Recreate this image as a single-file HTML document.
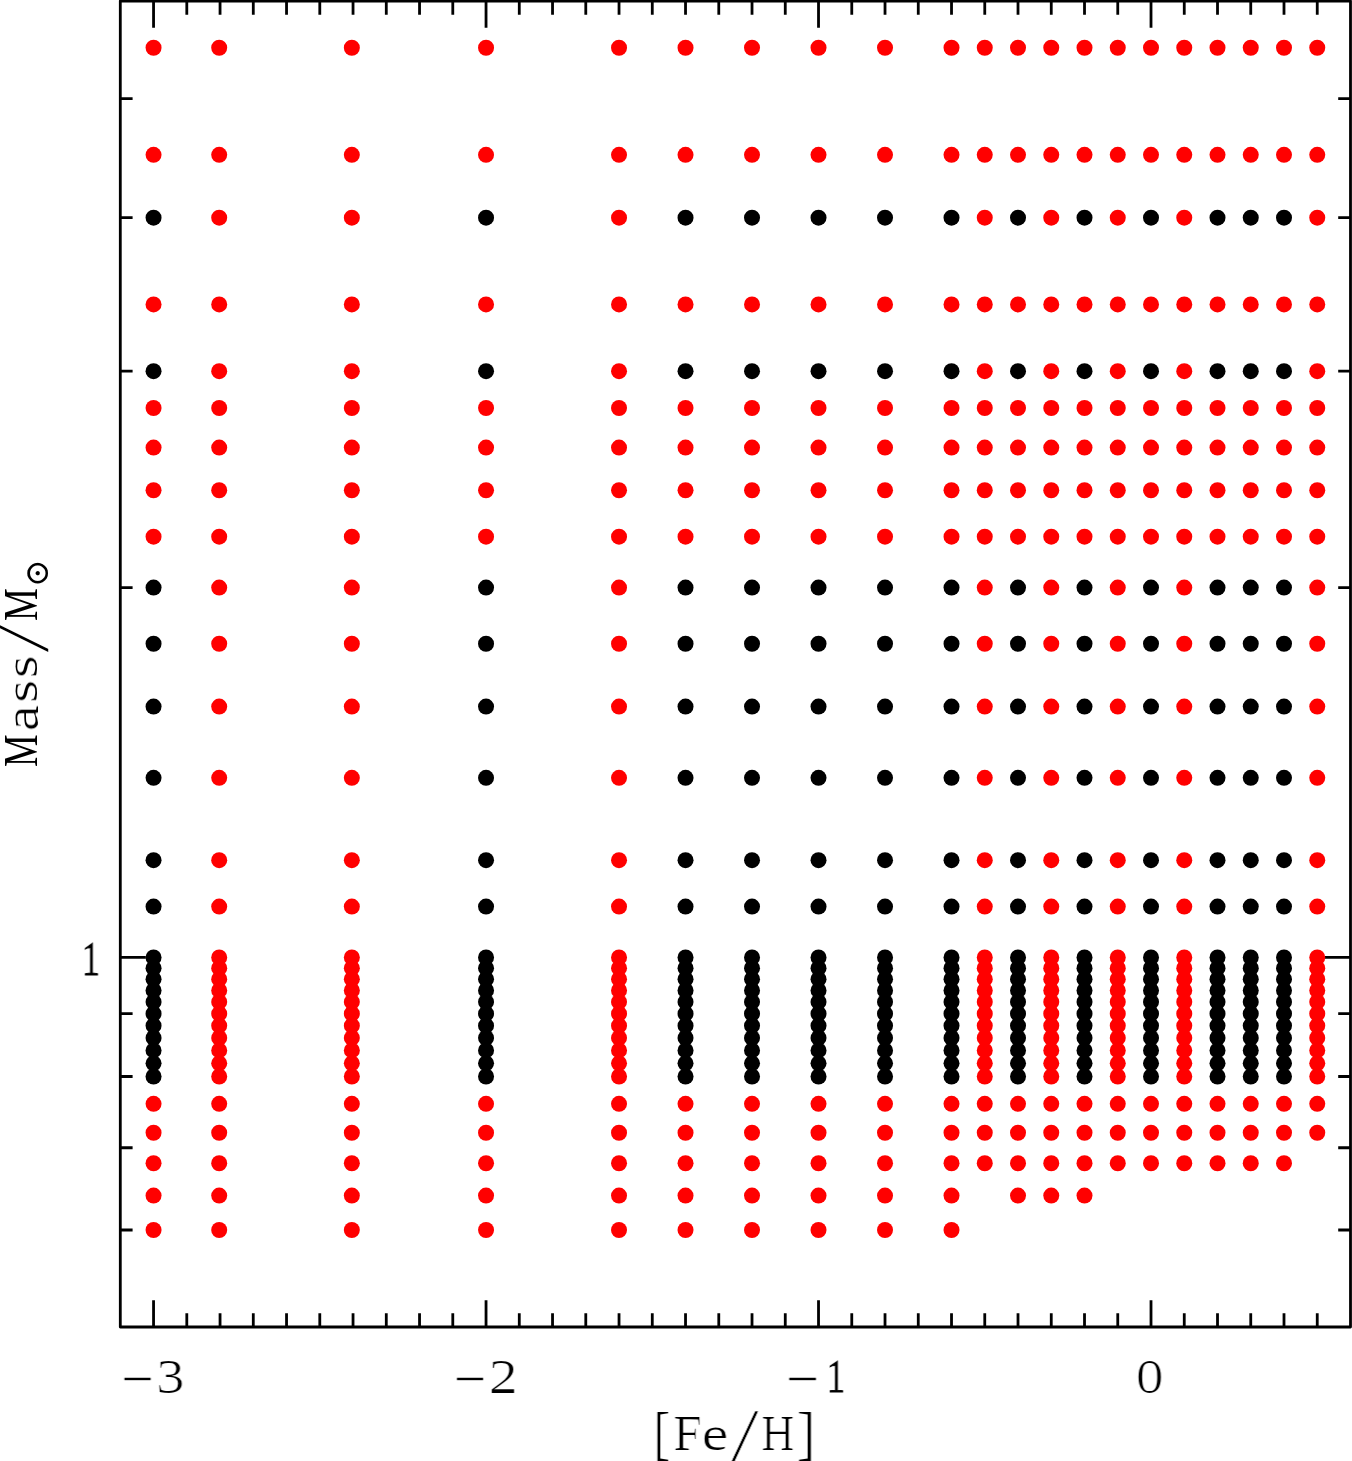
<!DOCTYPE html>
<html lang="en"><head><meta charset="utf-8"><title>Mass/M⊙ vs [Fe/H]</title>
<style>html,body{margin:0;padding:0;background:#fff}svg{display:block}text{font-family:"Liberation Serif","DejaVu Serif",serif;fill:#000}</style></head>
<body>
<svg width="1352" height="1461" viewBox="0 0 1352 1461">
<rect width="1352" height="1461" fill="#fff"/>
<defs><filter id="thin" x="-10%" y="-10%" width="120%" height="120%" color-interpolation-filters="sRGB"><feColorMatrix in="SourceGraphic" type="matrix" values="0 0 0 0 0  0 0 0 0 0  0 0 0 0 0  -1 0 0 1 0" result="k"/><feMorphology in="k" operator="erode" radius="1 0" result="e"/><feComposite in="k" in2="e" operator="arithmetic" k1="0" k2="0.3" k3="0.7" k4="0"/></filter><filter id="thiny" x="-10%" y="-10%" width="120%" height="120%" color-interpolation-filters="sRGB"><feColorMatrix in="SourceGraphic" type="matrix" values="0 0 0 0 0  0 0 0 0 0  0 0 0 0 0  -1 0 0 1 0" result="k"/><feMorphology in="k" operator="erode" radius="1 0" result="e"/><feComposite x="-731.5" y="-20" width="76.5" height="90" in="k" in2="e" operator="arithmetic" k1="0" k2="0.3" k3="0.7" k4="0" result="ins"/><feFlood x="-731.5" y="-20" width="76.5" height="90" flood-color="#000" result="m"/><feComposite in="k" in2="m" operator="out" result="outs"/><feMerge><feMergeNode in="outs"/><feMergeNode in="ins"/></feMerge></filter></defs>
<path d="M153.55 1327.00v-26.80M153.55 1.00v26.80M186.80 1327.00v-13.80M186.80 1.00v13.80M220.05 1327.00v-13.80M220.05 1.00v13.80M253.29 1327.00v-13.80M253.29 1.00v13.80M286.54 1327.00v-13.80M286.54 1.00v13.80M319.79 1327.00v-13.80M319.79 1.00v13.80M353.04 1327.00v-13.80M353.04 1.00v13.80M386.29 1327.00v-13.80M386.29 1.00v13.80M419.54 1327.00v-13.80M419.54 1.00v13.80M452.79 1327.00v-13.80M452.79 1.00v13.80M486.04 1327.00v-26.80M486.04 1.00v26.80M519.28 1327.00v-13.80M519.28 1.00v13.80M552.53 1327.00v-13.80M552.53 1.00v13.80M585.78 1327.00v-13.80M585.78 1.00v13.80M619.03 1327.00v-13.80M619.03 1.00v13.80M652.28 1327.00v-13.80M652.28 1.00v13.80M685.53 1327.00v-13.80M685.53 1.00v13.80M718.78 1327.00v-13.80M718.78 1.00v13.80M752.02 1327.00v-13.80M752.02 1.00v13.80M785.27 1327.00v-13.80M785.27 1.00v13.80M818.52 1327.00v-26.80M818.52 1.00v26.80M851.77 1327.00v-13.80M851.77 1.00v13.80M885.02 1327.00v-13.80M885.02 1.00v13.80M918.27 1327.00v-13.80M918.27 1.00v13.80M951.52 1327.00v-13.80M951.52 1.00v13.80M984.76 1327.00v-13.80M984.76 1.00v13.80M1018.01 1327.00v-13.80M1018.01 1.00v13.80M1051.26 1327.00v-13.80M1051.26 1.00v13.80M1084.51 1327.00v-13.80M1084.51 1.00v13.80M1117.76 1327.00v-13.80M1117.76 1.00v13.80M1151.01 1327.00v-26.80M1151.01 1.00v26.80M1184.26 1327.00v-13.80M1184.26 1.00v13.80M1217.51 1327.00v-13.80M1217.51 1.00v13.80M1250.75 1327.00v-13.80M1250.75 1.00v13.80M1284.00 1327.00v-13.80M1284.00 1.00v13.80M1317.25 1327.00v-13.80M1317.25 1.00v13.80M120.30 1230.01h12.30M1350.50 1230.01h-12.30M120.30 1147.75h12.30M1350.50 1147.75h-12.30M120.30 1076.50h12.30M1350.50 1076.50h-12.30M120.30 1013.64h12.30M1350.50 1013.64h-12.30M120.30 957.42h25.50M1350.50 957.42h-25.50M120.30 587.54h12.30M1350.50 587.54h-12.30M120.30 371.18h12.30M1350.50 371.18h-12.30M120.30 217.66h12.30M1350.50 217.66h-12.30M120.30 98.59h12.30M1350.50 98.59h-12.30" stroke="#000" stroke-width="2.8" fill="none"/>
<rect x="120.30" y="1.00" width="1230.20" height="1326.00" fill="none" stroke="#000" stroke-width="2.8" stroke-linejoin="round"/>
<g fill="#f00"><circle cx="153.55" cy="1230.01" r="8.0"/><circle cx="219.20" cy="1230.01" r="8.0"/><circle cx="351.84" cy="1230.01" r="8.0"/><circle cx="486.04" cy="1230.01" r="8.0"/><circle cx="619.03" cy="1230.01" r="8.0"/><circle cx="685.53" cy="1230.01" r="8.0"/><circle cx="752.02" cy="1230.01" r="8.0"/><circle cx="818.52" cy="1230.01" r="8.0"/><circle cx="885.02" cy="1230.01" r="8.0"/><circle cx="951.52" cy="1230.01" r="8.0"/><circle cx="153.55" cy="1195.57" r="8.0"/><circle cx="219.20" cy="1195.57" r="8.0"/><circle cx="351.84" cy="1195.57" r="8.0"/><circle cx="486.04" cy="1195.57" r="8.0"/><circle cx="619.03" cy="1195.57" r="8.0"/><circle cx="685.53" cy="1195.57" r="8.0"/><circle cx="752.02" cy="1195.57" r="8.0"/><circle cx="818.52" cy="1195.57" r="8.0"/><circle cx="885.02" cy="1195.57" r="8.0"/><circle cx="951.52" cy="1195.57" r="8.0"/><circle cx="1018.01" cy="1195.57" r="8.0"/><circle cx="1051.26" cy="1195.57" r="8.0"/><circle cx="1084.51" cy="1195.57" r="8.0"/><circle cx="153.55" cy="1163.22" r="8.0"/><circle cx="219.20" cy="1163.22" r="8.0"/><circle cx="351.84" cy="1163.22" r="8.0"/><circle cx="486.04" cy="1163.22" r="8.0"/><circle cx="619.03" cy="1163.22" r="8.0"/><circle cx="685.53" cy="1163.22" r="8.0"/><circle cx="752.02" cy="1163.22" r="8.0"/><circle cx="818.52" cy="1163.22" r="8.0"/><circle cx="885.02" cy="1163.22" r="8.0"/><circle cx="951.52" cy="1163.22" r="8.0"/><circle cx="984.76" cy="1163.22" r="8.0"/><circle cx="1018.01" cy="1163.22" r="8.0"/><circle cx="1051.26" cy="1163.22" r="8.0"/><circle cx="1084.51" cy="1163.22" r="8.0"/><circle cx="1117.76" cy="1163.22" r="8.0"/><circle cx="1151.01" cy="1163.22" r="8.0"/><circle cx="1184.26" cy="1163.22" r="8.0"/><circle cx="1217.51" cy="1163.22" r="8.0"/><circle cx="1250.75" cy="1163.22" r="8.0"/><circle cx="1284.00" cy="1163.22" r="8.0"/><circle cx="153.55" cy="1132.72" r="8.0"/><circle cx="219.20" cy="1132.72" r="8.0"/><circle cx="351.84" cy="1132.72" r="8.0"/><circle cx="486.04" cy="1132.72" r="8.0"/><circle cx="619.03" cy="1132.72" r="8.0"/><circle cx="685.53" cy="1132.72" r="8.0"/><circle cx="752.02" cy="1132.72" r="8.0"/><circle cx="818.52" cy="1132.72" r="8.0"/><circle cx="885.02" cy="1132.72" r="8.0"/><circle cx="951.52" cy="1132.72" r="8.0"/><circle cx="984.76" cy="1132.72" r="8.0"/><circle cx="1018.01" cy="1132.72" r="8.0"/><circle cx="1051.26" cy="1132.72" r="8.0"/><circle cx="1084.51" cy="1132.72" r="8.0"/><circle cx="1117.76" cy="1132.72" r="8.0"/><circle cx="1151.01" cy="1132.72" r="8.0"/><circle cx="1184.26" cy="1132.72" r="8.0"/><circle cx="1217.51" cy="1132.72" r="8.0"/><circle cx="1250.75" cy="1132.72" r="8.0"/><circle cx="1284.00" cy="1132.72" r="8.0"/><circle cx="1317.25" cy="1132.72" r="8.0"/><circle cx="153.55" cy="1103.87" r="8.0"/><circle cx="219.20" cy="1103.87" r="8.0"/><circle cx="351.84" cy="1103.87" r="8.0"/><circle cx="486.04" cy="1103.87" r="8.0"/><circle cx="619.03" cy="1103.87" r="8.0"/><circle cx="685.53" cy="1103.87" r="8.0"/><circle cx="752.02" cy="1103.87" r="8.0"/><circle cx="818.52" cy="1103.87" r="8.0"/><circle cx="885.02" cy="1103.87" r="8.0"/><circle cx="951.52" cy="1103.87" r="8.0"/><circle cx="984.76" cy="1103.87" r="8.0"/><circle cx="1018.01" cy="1103.87" r="8.0"/><circle cx="1051.26" cy="1103.87" r="8.0"/><circle cx="1084.51" cy="1103.87" r="8.0"/><circle cx="1117.76" cy="1103.87" r="8.0"/><circle cx="1151.01" cy="1103.87" r="8.0"/><circle cx="1184.26" cy="1103.87" r="8.0"/><circle cx="1217.51" cy="1103.87" r="8.0"/><circle cx="1250.75" cy="1103.87" r="8.0"/><circle cx="1284.00" cy="1103.87" r="8.0"/><circle cx="1317.25" cy="1103.87" r="8.0"/><circle cx="219.20" cy="1076.50" r="8.0"/><circle cx="351.84" cy="1076.50" r="8.0"/><circle cx="619.03" cy="1076.50" r="8.0"/><circle cx="984.76" cy="1076.50" r="8.0"/><circle cx="1051.26" cy="1076.50" r="8.0"/><circle cx="1117.76" cy="1076.50" r="8.0"/><circle cx="1184.26" cy="1076.50" r="8.0"/><circle cx="1317.25" cy="1076.50" r="8.0"/><circle cx="219.20" cy="1063.32" r="8.0"/><circle cx="351.84" cy="1063.32" r="8.0"/><circle cx="619.03" cy="1063.32" r="8.0"/><circle cx="984.76" cy="1063.32" r="8.0"/><circle cx="1051.26" cy="1063.32" r="8.0"/><circle cx="1117.76" cy="1063.32" r="8.0"/><circle cx="1184.26" cy="1063.32" r="8.0"/><circle cx="1317.25" cy="1063.32" r="8.0"/><circle cx="219.20" cy="1050.46" r="8.0"/><circle cx="351.84" cy="1050.46" r="8.0"/><circle cx="619.03" cy="1050.46" r="8.0"/><circle cx="984.76" cy="1050.46" r="8.0"/><circle cx="1051.26" cy="1050.46" r="8.0"/><circle cx="1117.76" cy="1050.46" r="8.0"/><circle cx="1184.26" cy="1050.46" r="8.0"/><circle cx="1317.25" cy="1050.46" r="8.0"/><circle cx="219.20" cy="1037.90" r="8.0"/><circle cx="351.84" cy="1037.90" r="8.0"/><circle cx="619.03" cy="1037.90" r="8.0"/><circle cx="984.76" cy="1037.90" r="8.0"/><circle cx="1051.26" cy="1037.90" r="8.0"/><circle cx="1117.76" cy="1037.90" r="8.0"/><circle cx="1184.26" cy="1037.90" r="8.0"/><circle cx="1317.25" cy="1037.90" r="8.0"/><circle cx="219.20" cy="1025.64" r="8.0"/><circle cx="351.84" cy="1025.64" r="8.0"/><circle cx="619.03" cy="1025.64" r="8.0"/><circle cx="984.76" cy="1025.64" r="8.0"/><circle cx="1051.26" cy="1025.64" r="8.0"/><circle cx="1117.76" cy="1025.64" r="8.0"/><circle cx="1184.26" cy="1025.64" r="8.0"/><circle cx="1317.25" cy="1025.64" r="8.0"/><circle cx="219.20" cy="1013.64" r="8.0"/><circle cx="351.84" cy="1013.64" r="8.0"/><circle cx="619.03" cy="1013.64" r="8.0"/><circle cx="984.76" cy="1013.64" r="8.0"/><circle cx="1051.26" cy="1013.64" r="8.0"/><circle cx="1117.76" cy="1013.64" r="8.0"/><circle cx="1184.26" cy="1013.64" r="8.0"/><circle cx="1317.25" cy="1013.64" r="8.0"/><circle cx="219.20" cy="1001.92" r="8.0"/><circle cx="351.84" cy="1001.92" r="8.0"/><circle cx="619.03" cy="1001.92" r="8.0"/><circle cx="984.76" cy="1001.92" r="8.0"/><circle cx="1051.26" cy="1001.92" r="8.0"/><circle cx="1117.76" cy="1001.92" r="8.0"/><circle cx="1184.26" cy="1001.92" r="8.0"/><circle cx="1317.25" cy="1001.92" r="8.0"/><circle cx="219.20" cy="990.44" r="8.0"/><circle cx="351.84" cy="990.44" r="8.0"/><circle cx="619.03" cy="990.44" r="8.0"/><circle cx="984.76" cy="990.44" r="8.0"/><circle cx="1051.26" cy="990.44" r="8.0"/><circle cx="1117.76" cy="990.44" r="8.0"/><circle cx="1184.26" cy="990.44" r="8.0"/><circle cx="1317.25" cy="990.44" r="8.0"/><circle cx="219.20" cy="979.21" r="8.0"/><circle cx="351.84" cy="979.21" r="8.0"/><circle cx="619.03" cy="979.21" r="8.0"/><circle cx="984.76" cy="979.21" r="8.0"/><circle cx="1051.26" cy="979.21" r="8.0"/><circle cx="1117.76" cy="979.21" r="8.0"/><circle cx="1184.26" cy="979.21" r="8.0"/><circle cx="1317.25" cy="979.21" r="8.0"/><circle cx="219.20" cy="968.20" r="8.0"/><circle cx="351.84" cy="968.20" r="8.0"/><circle cx="619.03" cy="968.20" r="8.0"/><circle cx="984.76" cy="968.20" r="8.0"/><circle cx="1051.26" cy="968.20" r="8.0"/><circle cx="1117.76" cy="968.20" r="8.0"/><circle cx="1184.26" cy="968.20" r="8.0"/><circle cx="1317.25" cy="968.20" r="8.0"/><circle cx="219.20" cy="957.42" r="8.0"/><circle cx="351.84" cy="957.42" r="8.0"/><circle cx="619.03" cy="957.42" r="8.0"/><circle cx="984.76" cy="957.42" r="8.0"/><circle cx="1051.26" cy="957.42" r="8.0"/><circle cx="1117.76" cy="957.42" r="8.0"/><circle cx="1184.26" cy="957.42" r="8.0"/><circle cx="1317.25" cy="957.42" r="8.0"/><circle cx="219.20" cy="906.56" r="8.0"/><circle cx="351.84" cy="906.56" r="8.0"/><circle cx="619.03" cy="906.56" r="8.0"/><circle cx="984.76" cy="906.56" r="8.0"/><circle cx="1051.26" cy="906.56" r="8.0"/><circle cx="1117.76" cy="906.56" r="8.0"/><circle cx="1184.26" cy="906.56" r="8.0"/><circle cx="1317.25" cy="906.56" r="8.0"/><circle cx="219.20" cy="860.13" r="8.0"/><circle cx="351.84" cy="860.13" r="8.0"/><circle cx="619.03" cy="860.13" r="8.0"/><circle cx="984.76" cy="860.13" r="8.0"/><circle cx="1051.26" cy="860.13" r="8.0"/><circle cx="1117.76" cy="860.13" r="8.0"/><circle cx="1184.26" cy="860.13" r="8.0"/><circle cx="1317.25" cy="860.13" r="8.0"/><circle cx="219.20" cy="777.87" r="8.0"/><circle cx="351.84" cy="777.87" r="8.0"/><circle cx="619.03" cy="777.87" r="8.0"/><circle cx="984.76" cy="777.87" r="8.0"/><circle cx="1051.26" cy="777.87" r="8.0"/><circle cx="1117.76" cy="777.87" r="8.0"/><circle cx="1184.26" cy="777.87" r="8.0"/><circle cx="1317.25" cy="777.87" r="8.0"/><circle cx="219.20" cy="706.62" r="8.0"/><circle cx="351.84" cy="706.62" r="8.0"/><circle cx="619.03" cy="706.62" r="8.0"/><circle cx="984.76" cy="706.62" r="8.0"/><circle cx="1051.26" cy="706.62" r="8.0"/><circle cx="1117.76" cy="706.62" r="8.0"/><circle cx="1184.26" cy="706.62" r="8.0"/><circle cx="1317.25" cy="706.62" r="8.0"/><circle cx="219.20" cy="643.77" r="8.0"/><circle cx="351.84" cy="643.77" r="8.0"/><circle cx="619.03" cy="643.77" r="8.0"/><circle cx="984.76" cy="643.77" r="8.0"/><circle cx="1051.26" cy="643.77" r="8.0"/><circle cx="1117.76" cy="643.77" r="8.0"/><circle cx="1184.26" cy="643.77" r="8.0"/><circle cx="1317.25" cy="643.77" r="8.0"/><circle cx="219.20" cy="587.54" r="8.0"/><circle cx="351.84" cy="587.54" r="8.0"/><circle cx="619.03" cy="587.54" r="8.0"/><circle cx="984.76" cy="587.54" r="8.0"/><circle cx="1051.26" cy="587.54" r="8.0"/><circle cx="1117.76" cy="587.54" r="8.0"/><circle cx="1184.26" cy="587.54" r="8.0"/><circle cx="1317.25" cy="587.54" r="8.0"/><circle cx="153.55" cy="536.68" r="8.0"/><circle cx="219.20" cy="536.68" r="8.0"/><circle cx="351.84" cy="536.68" r="8.0"/><circle cx="486.04" cy="536.68" r="8.0"/><circle cx="619.03" cy="536.68" r="8.0"/><circle cx="685.53" cy="536.68" r="8.0"/><circle cx="752.02" cy="536.68" r="8.0"/><circle cx="818.52" cy="536.68" r="8.0"/><circle cx="885.02" cy="536.68" r="8.0"/><circle cx="951.52" cy="536.68" r="8.0"/><circle cx="984.76" cy="536.68" r="8.0"/><circle cx="1018.01" cy="536.68" r="8.0"/><circle cx="1051.26" cy="536.68" r="8.0"/><circle cx="1084.51" cy="536.68" r="8.0"/><circle cx="1117.76" cy="536.68" r="8.0"/><circle cx="1151.01" cy="536.68" r="8.0"/><circle cx="1184.26" cy="536.68" r="8.0"/><circle cx="1217.51" cy="536.68" r="8.0"/><circle cx="1250.75" cy="536.68" r="8.0"/><circle cx="1284.00" cy="536.68" r="8.0"/><circle cx="1317.25" cy="536.68" r="8.0"/><circle cx="153.55" cy="490.25" r="8.0"/><circle cx="219.20" cy="490.25" r="8.0"/><circle cx="351.84" cy="490.25" r="8.0"/><circle cx="486.04" cy="490.25" r="8.0"/><circle cx="619.03" cy="490.25" r="8.0"/><circle cx="685.53" cy="490.25" r="8.0"/><circle cx="752.02" cy="490.25" r="8.0"/><circle cx="818.52" cy="490.25" r="8.0"/><circle cx="885.02" cy="490.25" r="8.0"/><circle cx="951.52" cy="490.25" r="8.0"/><circle cx="984.76" cy="490.25" r="8.0"/><circle cx="1018.01" cy="490.25" r="8.0"/><circle cx="1051.26" cy="490.25" r="8.0"/><circle cx="1084.51" cy="490.25" r="8.0"/><circle cx="1117.76" cy="490.25" r="8.0"/><circle cx="1151.01" cy="490.25" r="8.0"/><circle cx="1184.26" cy="490.25" r="8.0"/><circle cx="1217.51" cy="490.25" r="8.0"/><circle cx="1250.75" cy="490.25" r="8.0"/><circle cx="1284.00" cy="490.25" r="8.0"/><circle cx="1317.25" cy="490.25" r="8.0"/><circle cx="153.55" cy="447.54" r="8.0"/><circle cx="219.20" cy="447.54" r="8.0"/><circle cx="351.84" cy="447.54" r="8.0"/><circle cx="486.04" cy="447.54" r="8.0"/><circle cx="619.03" cy="447.54" r="8.0"/><circle cx="685.53" cy="447.54" r="8.0"/><circle cx="752.02" cy="447.54" r="8.0"/><circle cx="818.52" cy="447.54" r="8.0"/><circle cx="885.02" cy="447.54" r="8.0"/><circle cx="951.52" cy="447.54" r="8.0"/><circle cx="984.76" cy="447.54" r="8.0"/><circle cx="1018.01" cy="447.54" r="8.0"/><circle cx="1051.26" cy="447.54" r="8.0"/><circle cx="1084.51" cy="447.54" r="8.0"/><circle cx="1117.76" cy="447.54" r="8.0"/><circle cx="1151.01" cy="447.54" r="8.0"/><circle cx="1184.26" cy="447.54" r="8.0"/><circle cx="1217.51" cy="447.54" r="8.0"/><circle cx="1250.75" cy="447.54" r="8.0"/><circle cx="1284.00" cy="447.54" r="8.0"/><circle cx="1317.25" cy="447.54" r="8.0"/><circle cx="153.55" cy="407.99" r="8.0"/><circle cx="219.20" cy="407.99" r="8.0"/><circle cx="351.84" cy="407.99" r="8.0"/><circle cx="486.04" cy="407.99" r="8.0"/><circle cx="619.03" cy="407.99" r="8.0"/><circle cx="685.53" cy="407.99" r="8.0"/><circle cx="752.02" cy="407.99" r="8.0"/><circle cx="818.52" cy="407.99" r="8.0"/><circle cx="885.02" cy="407.99" r="8.0"/><circle cx="951.52" cy="407.99" r="8.0"/><circle cx="984.76" cy="407.99" r="8.0"/><circle cx="1018.01" cy="407.99" r="8.0"/><circle cx="1051.26" cy="407.99" r="8.0"/><circle cx="1084.51" cy="407.99" r="8.0"/><circle cx="1117.76" cy="407.99" r="8.0"/><circle cx="1151.01" cy="407.99" r="8.0"/><circle cx="1184.26" cy="407.99" r="8.0"/><circle cx="1217.51" cy="407.99" r="8.0"/><circle cx="1250.75" cy="407.99" r="8.0"/><circle cx="1284.00" cy="407.99" r="8.0"/><circle cx="1317.25" cy="407.99" r="8.0"/><circle cx="219.20" cy="371.18" r="8.0"/><circle cx="351.84" cy="371.18" r="8.0"/><circle cx="619.03" cy="371.18" r="8.0"/><circle cx="984.76" cy="371.18" r="8.0"/><circle cx="1051.26" cy="371.18" r="8.0"/><circle cx="1117.76" cy="371.18" r="8.0"/><circle cx="1184.26" cy="371.18" r="8.0"/><circle cx="1317.25" cy="371.18" r="8.0"/><circle cx="153.55" cy="304.39" r="8.0"/><circle cx="219.20" cy="304.39" r="8.0"/><circle cx="351.84" cy="304.39" r="8.0"/><circle cx="486.04" cy="304.39" r="8.0"/><circle cx="619.03" cy="304.39" r="8.0"/><circle cx="685.53" cy="304.39" r="8.0"/><circle cx="752.02" cy="304.39" r="8.0"/><circle cx="818.52" cy="304.39" r="8.0"/><circle cx="885.02" cy="304.39" r="8.0"/><circle cx="951.52" cy="304.39" r="8.0"/><circle cx="984.76" cy="304.39" r="8.0"/><circle cx="1018.01" cy="304.39" r="8.0"/><circle cx="1051.26" cy="304.39" r="8.0"/><circle cx="1084.51" cy="304.39" r="8.0"/><circle cx="1117.76" cy="304.39" r="8.0"/><circle cx="1151.01" cy="304.39" r="8.0"/><circle cx="1184.26" cy="304.39" r="8.0"/><circle cx="1217.51" cy="304.39" r="8.0"/><circle cx="1250.75" cy="304.39" r="8.0"/><circle cx="1284.00" cy="304.39" r="8.0"/><circle cx="1317.25" cy="304.39" r="8.0"/><circle cx="219.20" cy="217.66" r="8.0"/><circle cx="351.84" cy="217.66" r="8.0"/><circle cx="619.03" cy="217.66" r="8.0"/><circle cx="984.76" cy="217.66" r="8.0"/><circle cx="1051.26" cy="217.66" r="8.0"/><circle cx="1117.76" cy="217.66" r="8.0"/><circle cx="1184.26" cy="217.66" r="8.0"/><circle cx="1317.25" cy="217.66" r="8.0"/><circle cx="153.55" cy="154.81" r="8.0"/><circle cx="219.20" cy="154.81" r="8.0"/><circle cx="351.84" cy="154.81" r="8.0"/><circle cx="486.04" cy="154.81" r="8.0"/><circle cx="619.03" cy="154.81" r="8.0"/><circle cx="685.53" cy="154.81" r="8.0"/><circle cx="752.02" cy="154.81" r="8.0"/><circle cx="818.52" cy="154.81" r="8.0"/><circle cx="885.02" cy="154.81" r="8.0"/><circle cx="951.52" cy="154.81" r="8.0"/><circle cx="984.76" cy="154.81" r="8.0"/><circle cx="1018.01" cy="154.81" r="8.0"/><circle cx="1051.26" cy="154.81" r="8.0"/><circle cx="1084.51" cy="154.81" r="8.0"/><circle cx="1117.76" cy="154.81" r="8.0"/><circle cx="1151.01" cy="154.81" r="8.0"/><circle cx="1184.26" cy="154.81" r="8.0"/><circle cx="1217.51" cy="154.81" r="8.0"/><circle cx="1250.75" cy="154.81" r="8.0"/><circle cx="1284.00" cy="154.81" r="8.0"/><circle cx="1317.25" cy="154.81" r="8.0"/><circle cx="153.55" cy="47.73" r="8.0"/><circle cx="219.20" cy="47.73" r="8.0"/><circle cx="351.84" cy="47.73" r="8.0"/><circle cx="486.04" cy="47.73" r="8.0"/><circle cx="619.03" cy="47.73" r="8.0"/><circle cx="685.53" cy="47.73" r="8.0"/><circle cx="752.02" cy="47.73" r="8.0"/><circle cx="818.52" cy="47.73" r="8.0"/><circle cx="885.02" cy="47.73" r="8.0"/><circle cx="951.52" cy="47.73" r="8.0"/><circle cx="984.76" cy="47.73" r="8.0"/><circle cx="1018.01" cy="47.73" r="8.0"/><circle cx="1051.26" cy="47.73" r="8.0"/><circle cx="1084.51" cy="47.73" r="8.0"/><circle cx="1117.76" cy="47.73" r="8.0"/><circle cx="1151.01" cy="47.73" r="8.0"/><circle cx="1184.26" cy="47.73" r="8.0"/><circle cx="1217.51" cy="47.73" r="8.0"/><circle cx="1250.75" cy="47.73" r="8.0"/><circle cx="1284.00" cy="47.73" r="8.0"/><circle cx="1317.25" cy="47.73" r="8.0"/></g>
<g fill="#000"><circle cx="153.55" cy="1076.50" r="8.0"/><circle cx="486.04" cy="1076.50" r="8.0"/><circle cx="685.53" cy="1076.50" r="8.0"/><circle cx="752.02" cy="1076.50" r="8.0"/><circle cx="818.52" cy="1076.50" r="8.0"/><circle cx="885.02" cy="1076.50" r="8.0"/><circle cx="951.52" cy="1076.50" r="8.0"/><circle cx="1018.01" cy="1076.50" r="8.0"/><circle cx="1084.51" cy="1076.50" r="8.0"/><circle cx="1151.01" cy="1076.50" r="8.0"/><circle cx="1217.51" cy="1076.50" r="8.0"/><circle cx="1250.75" cy="1076.50" r="8.0"/><circle cx="1284.00" cy="1076.50" r="8.0"/><circle cx="153.55" cy="1063.32" r="8.0"/><circle cx="486.04" cy="1063.32" r="8.0"/><circle cx="685.53" cy="1063.32" r="8.0"/><circle cx="752.02" cy="1063.32" r="8.0"/><circle cx="818.52" cy="1063.32" r="8.0"/><circle cx="885.02" cy="1063.32" r="8.0"/><circle cx="951.52" cy="1063.32" r="8.0"/><circle cx="1018.01" cy="1063.32" r="8.0"/><circle cx="1084.51" cy="1063.32" r="8.0"/><circle cx="1151.01" cy="1063.32" r="8.0"/><circle cx="1217.51" cy="1063.32" r="8.0"/><circle cx="1250.75" cy="1063.32" r="8.0"/><circle cx="1284.00" cy="1063.32" r="8.0"/><circle cx="153.55" cy="1050.46" r="8.0"/><circle cx="486.04" cy="1050.46" r="8.0"/><circle cx="685.53" cy="1050.46" r="8.0"/><circle cx="752.02" cy="1050.46" r="8.0"/><circle cx="818.52" cy="1050.46" r="8.0"/><circle cx="885.02" cy="1050.46" r="8.0"/><circle cx="951.52" cy="1050.46" r="8.0"/><circle cx="1018.01" cy="1050.46" r="8.0"/><circle cx="1084.51" cy="1050.46" r="8.0"/><circle cx="1151.01" cy="1050.46" r="8.0"/><circle cx="1217.51" cy="1050.46" r="8.0"/><circle cx="1250.75" cy="1050.46" r="8.0"/><circle cx="1284.00" cy="1050.46" r="8.0"/><circle cx="153.55" cy="1037.90" r="8.0"/><circle cx="486.04" cy="1037.90" r="8.0"/><circle cx="685.53" cy="1037.90" r="8.0"/><circle cx="752.02" cy="1037.90" r="8.0"/><circle cx="818.52" cy="1037.90" r="8.0"/><circle cx="885.02" cy="1037.90" r="8.0"/><circle cx="951.52" cy="1037.90" r="8.0"/><circle cx="1018.01" cy="1037.90" r="8.0"/><circle cx="1084.51" cy="1037.90" r="8.0"/><circle cx="1151.01" cy="1037.90" r="8.0"/><circle cx="1217.51" cy="1037.90" r="8.0"/><circle cx="1250.75" cy="1037.90" r="8.0"/><circle cx="1284.00" cy="1037.90" r="8.0"/><circle cx="153.55" cy="1025.64" r="8.0"/><circle cx="486.04" cy="1025.64" r="8.0"/><circle cx="685.53" cy="1025.64" r="8.0"/><circle cx="752.02" cy="1025.64" r="8.0"/><circle cx="818.52" cy="1025.64" r="8.0"/><circle cx="885.02" cy="1025.64" r="8.0"/><circle cx="951.52" cy="1025.64" r="8.0"/><circle cx="1018.01" cy="1025.64" r="8.0"/><circle cx="1084.51" cy="1025.64" r="8.0"/><circle cx="1151.01" cy="1025.64" r="8.0"/><circle cx="1217.51" cy="1025.64" r="8.0"/><circle cx="1250.75" cy="1025.64" r="8.0"/><circle cx="1284.00" cy="1025.64" r="8.0"/><circle cx="153.55" cy="1013.64" r="8.0"/><circle cx="486.04" cy="1013.64" r="8.0"/><circle cx="685.53" cy="1013.64" r="8.0"/><circle cx="752.02" cy="1013.64" r="8.0"/><circle cx="818.52" cy="1013.64" r="8.0"/><circle cx="885.02" cy="1013.64" r="8.0"/><circle cx="951.52" cy="1013.64" r="8.0"/><circle cx="1018.01" cy="1013.64" r="8.0"/><circle cx="1084.51" cy="1013.64" r="8.0"/><circle cx="1151.01" cy="1013.64" r="8.0"/><circle cx="1217.51" cy="1013.64" r="8.0"/><circle cx="1250.75" cy="1013.64" r="8.0"/><circle cx="1284.00" cy="1013.64" r="8.0"/><circle cx="153.55" cy="1001.92" r="8.0"/><circle cx="486.04" cy="1001.92" r="8.0"/><circle cx="685.53" cy="1001.92" r="8.0"/><circle cx="752.02" cy="1001.92" r="8.0"/><circle cx="818.52" cy="1001.92" r="8.0"/><circle cx="885.02" cy="1001.92" r="8.0"/><circle cx="951.52" cy="1001.92" r="8.0"/><circle cx="1018.01" cy="1001.92" r="8.0"/><circle cx="1084.51" cy="1001.92" r="8.0"/><circle cx="1151.01" cy="1001.92" r="8.0"/><circle cx="1217.51" cy="1001.92" r="8.0"/><circle cx="1250.75" cy="1001.92" r="8.0"/><circle cx="1284.00" cy="1001.92" r="8.0"/><circle cx="153.55" cy="990.44" r="8.0"/><circle cx="486.04" cy="990.44" r="8.0"/><circle cx="685.53" cy="990.44" r="8.0"/><circle cx="752.02" cy="990.44" r="8.0"/><circle cx="818.52" cy="990.44" r="8.0"/><circle cx="885.02" cy="990.44" r="8.0"/><circle cx="951.52" cy="990.44" r="8.0"/><circle cx="1018.01" cy="990.44" r="8.0"/><circle cx="1084.51" cy="990.44" r="8.0"/><circle cx="1151.01" cy="990.44" r="8.0"/><circle cx="1217.51" cy="990.44" r="8.0"/><circle cx="1250.75" cy="990.44" r="8.0"/><circle cx="1284.00" cy="990.44" r="8.0"/><circle cx="153.55" cy="979.21" r="8.0"/><circle cx="486.04" cy="979.21" r="8.0"/><circle cx="685.53" cy="979.21" r="8.0"/><circle cx="752.02" cy="979.21" r="8.0"/><circle cx="818.52" cy="979.21" r="8.0"/><circle cx="885.02" cy="979.21" r="8.0"/><circle cx="951.52" cy="979.21" r="8.0"/><circle cx="1018.01" cy="979.21" r="8.0"/><circle cx="1084.51" cy="979.21" r="8.0"/><circle cx="1151.01" cy="979.21" r="8.0"/><circle cx="1217.51" cy="979.21" r="8.0"/><circle cx="1250.75" cy="979.21" r="8.0"/><circle cx="1284.00" cy="979.21" r="8.0"/><circle cx="153.55" cy="968.20" r="8.0"/><circle cx="486.04" cy="968.20" r="8.0"/><circle cx="685.53" cy="968.20" r="8.0"/><circle cx="752.02" cy="968.20" r="8.0"/><circle cx="818.52" cy="968.20" r="8.0"/><circle cx="885.02" cy="968.20" r="8.0"/><circle cx="951.52" cy="968.20" r="8.0"/><circle cx="1018.01" cy="968.20" r="8.0"/><circle cx="1084.51" cy="968.20" r="8.0"/><circle cx="1151.01" cy="968.20" r="8.0"/><circle cx="1217.51" cy="968.20" r="8.0"/><circle cx="1250.75" cy="968.20" r="8.0"/><circle cx="1284.00" cy="968.20" r="8.0"/><circle cx="153.55" cy="957.42" r="8.0"/><circle cx="486.04" cy="957.42" r="8.0"/><circle cx="685.53" cy="957.42" r="8.0"/><circle cx="752.02" cy="957.42" r="8.0"/><circle cx="818.52" cy="957.42" r="8.0"/><circle cx="885.02" cy="957.42" r="8.0"/><circle cx="951.52" cy="957.42" r="8.0"/><circle cx="1018.01" cy="957.42" r="8.0"/><circle cx="1084.51" cy="957.42" r="8.0"/><circle cx="1151.01" cy="957.42" r="8.0"/><circle cx="1217.51" cy="957.42" r="8.0"/><circle cx="1250.75" cy="957.42" r="8.0"/><circle cx="1284.00" cy="957.42" r="8.0"/><circle cx="153.55" cy="906.56" r="8.0"/><circle cx="486.04" cy="906.56" r="8.0"/><circle cx="685.53" cy="906.56" r="8.0"/><circle cx="752.02" cy="906.56" r="8.0"/><circle cx="818.52" cy="906.56" r="8.0"/><circle cx="885.02" cy="906.56" r="8.0"/><circle cx="951.52" cy="906.56" r="8.0"/><circle cx="1018.01" cy="906.56" r="8.0"/><circle cx="1084.51" cy="906.56" r="8.0"/><circle cx="1151.01" cy="906.56" r="8.0"/><circle cx="1217.51" cy="906.56" r="8.0"/><circle cx="1250.75" cy="906.56" r="8.0"/><circle cx="1284.00" cy="906.56" r="8.0"/><circle cx="153.55" cy="860.13" r="8.0"/><circle cx="486.04" cy="860.13" r="8.0"/><circle cx="685.53" cy="860.13" r="8.0"/><circle cx="752.02" cy="860.13" r="8.0"/><circle cx="818.52" cy="860.13" r="8.0"/><circle cx="885.02" cy="860.13" r="8.0"/><circle cx="951.52" cy="860.13" r="8.0"/><circle cx="1018.01" cy="860.13" r="8.0"/><circle cx="1084.51" cy="860.13" r="8.0"/><circle cx="1151.01" cy="860.13" r="8.0"/><circle cx="1217.51" cy="860.13" r="8.0"/><circle cx="1250.75" cy="860.13" r="8.0"/><circle cx="1284.00" cy="860.13" r="8.0"/><circle cx="153.55" cy="777.87" r="8.0"/><circle cx="486.04" cy="777.87" r="8.0"/><circle cx="685.53" cy="777.87" r="8.0"/><circle cx="752.02" cy="777.87" r="8.0"/><circle cx="818.52" cy="777.87" r="8.0"/><circle cx="885.02" cy="777.87" r="8.0"/><circle cx="951.52" cy="777.87" r="8.0"/><circle cx="1018.01" cy="777.87" r="8.0"/><circle cx="1084.51" cy="777.87" r="8.0"/><circle cx="1151.01" cy="777.87" r="8.0"/><circle cx="1217.51" cy="777.87" r="8.0"/><circle cx="1250.75" cy="777.87" r="8.0"/><circle cx="1284.00" cy="777.87" r="8.0"/><circle cx="153.55" cy="706.62" r="8.0"/><circle cx="486.04" cy="706.62" r="8.0"/><circle cx="685.53" cy="706.62" r="8.0"/><circle cx="752.02" cy="706.62" r="8.0"/><circle cx="818.52" cy="706.62" r="8.0"/><circle cx="885.02" cy="706.62" r="8.0"/><circle cx="951.52" cy="706.62" r="8.0"/><circle cx="1018.01" cy="706.62" r="8.0"/><circle cx="1084.51" cy="706.62" r="8.0"/><circle cx="1151.01" cy="706.62" r="8.0"/><circle cx="1217.51" cy="706.62" r="8.0"/><circle cx="1250.75" cy="706.62" r="8.0"/><circle cx="1284.00" cy="706.62" r="8.0"/><circle cx="153.55" cy="643.77" r="8.0"/><circle cx="486.04" cy="643.77" r="8.0"/><circle cx="685.53" cy="643.77" r="8.0"/><circle cx="752.02" cy="643.77" r="8.0"/><circle cx="818.52" cy="643.77" r="8.0"/><circle cx="885.02" cy="643.77" r="8.0"/><circle cx="951.52" cy="643.77" r="8.0"/><circle cx="1018.01" cy="643.77" r="8.0"/><circle cx="1084.51" cy="643.77" r="8.0"/><circle cx="1151.01" cy="643.77" r="8.0"/><circle cx="1217.51" cy="643.77" r="8.0"/><circle cx="1250.75" cy="643.77" r="8.0"/><circle cx="1284.00" cy="643.77" r="8.0"/><circle cx="153.55" cy="587.54" r="8.0"/><circle cx="486.04" cy="587.54" r="8.0"/><circle cx="685.53" cy="587.54" r="8.0"/><circle cx="752.02" cy="587.54" r="8.0"/><circle cx="818.52" cy="587.54" r="8.0"/><circle cx="885.02" cy="587.54" r="8.0"/><circle cx="951.52" cy="587.54" r="8.0"/><circle cx="1018.01" cy="587.54" r="8.0"/><circle cx="1084.51" cy="587.54" r="8.0"/><circle cx="1151.01" cy="587.54" r="8.0"/><circle cx="1217.51" cy="587.54" r="8.0"/><circle cx="1250.75" cy="587.54" r="8.0"/><circle cx="1284.00" cy="587.54" r="8.0"/><circle cx="153.55" cy="371.18" r="8.0"/><circle cx="486.04" cy="371.18" r="8.0"/><circle cx="685.53" cy="371.18" r="8.0"/><circle cx="752.02" cy="371.18" r="8.0"/><circle cx="818.52" cy="371.18" r="8.0"/><circle cx="885.02" cy="371.18" r="8.0"/><circle cx="951.52" cy="371.18" r="8.0"/><circle cx="1018.01" cy="371.18" r="8.0"/><circle cx="1084.51" cy="371.18" r="8.0"/><circle cx="1151.01" cy="371.18" r="8.0"/><circle cx="1217.51" cy="371.18" r="8.0"/><circle cx="1250.75" cy="371.18" r="8.0"/><circle cx="1284.00" cy="371.18" r="8.0"/><circle cx="153.55" cy="217.66" r="8.0"/><circle cx="486.04" cy="217.66" r="8.0"/><circle cx="685.53" cy="217.66" r="8.0"/><circle cx="752.02" cy="217.66" r="8.0"/><circle cx="818.52" cy="217.66" r="8.0"/><circle cx="885.02" cy="217.66" r="8.0"/><circle cx="951.52" cy="217.66" r="8.0"/><circle cx="1018.01" cy="217.66" r="8.0"/><circle cx="1084.51" cy="217.66" r="8.0"/><circle cx="1151.01" cy="217.66" r="8.0"/><circle cx="1217.51" cy="217.66" r="8.0"/><circle cx="1250.75" cy="217.66" r="8.0"/><circle cx="1284.00" cy="217.66" r="8.0"/></g>
<text stroke="#fff" stroke-width="0.0" filter="url(#thin)"><tspan x="120.89" y="1394.84" textLength="33.45" lengthAdjust="spacingAndGlyphs" font-size="48.30">−</tspan><tspan x="156.00" y="1392.73" textLength="28.69" lengthAdjust="spacingAndGlyphs" font-size="48.37">3</tspan></text>
<text stroke="#fff" stroke-width="0.0" filter="url(#thin)"><tspan x="453.38" y="1394.84" textLength="33.45" lengthAdjust="spacingAndGlyphs" font-size="48.30">−</tspan><tspan x="488.64" y="1392.90" textLength="29.56" lengthAdjust="spacingAndGlyphs" font-size="48.18">2</tspan></text>
<text stroke="#fff" stroke-width="0.0" filter="url(#thin)"><tspan x="785.49" y="1394.84" textLength="34.06" lengthAdjust="spacingAndGlyphs" font-size="48.30">−</tspan><tspan x="825.93" y="1392.40" textLength="19.74" lengthAdjust="spacingAndGlyphs" font-size="46.81" stroke-width="1.0" stroke="#000">1</tspan></text>
<text stroke="#fff" stroke-width="0.0" filter="url(#thin)"><tspan x="1135.77" y="1392.73" textLength="27.96" lengthAdjust="spacingAndGlyphs" font-size="48.16">0</tspan></text>
<text stroke="#fff" stroke-width="0.0" filter="url(#thin)"><tspan x="81.20" y="975.30" textLength="19.32" lengthAdjust="spacingAndGlyphs" font-size="47.56" stroke-width="1.0" stroke="#000">1</tspan></text>
<text stroke="#fff" stroke-width="0.0" filter="url(#thin)"><tspan x="652.67" y="1452.68" textLength="18.10" lengthAdjust="spacingAndGlyphs" font-size="59.20">[</tspan><tspan x="673.10" y="1449.80" textLength="28.98" lengthAdjust="spacingAndGlyphs" font-size="49.63">F</tspan><tspan x="701.50" y="1449.83" textLength="27.22" lengthAdjust="spacingAndGlyphs" font-size="48.45">e</tspan><tspan x="730.20" y="1461.46" textLength="29.00" lengthAdjust="spacingAndGlyphs" font-size="75.49" stroke-width="0.4">/</tspan><tspan x="761.06" y="1449.80" textLength="33.60" lengthAdjust="spacingAndGlyphs" font-size="49.63">H</tspan><tspan x="796.26" y="1452.68" textLength="19.74" lengthAdjust="spacingAndGlyphs" font-size="59.20">]</tspan></text>
<text transform="rotate(-90)" stroke="#fff" stroke-width="0" filter="url(#thiny)"><tspan x="-766.96" y="37.35" textLength="32.63" lengthAdjust="spacingAndGlyphs" font-size="49.25">M</tspan><tspan x="-731.62" y="37.50" textLength="26.74" lengthAdjust="spacingAndGlyphs" font-size="48.04">a</tspan><tspan x="-703.21" y="37.34" textLength="23.82" lengthAdjust="spacingAndGlyphs" font-size="47.41">s</tspan><tspan x="-678.58" y="37.34" textLength="23.57" lengthAdjust="spacingAndGlyphs" font-size="47.41">s</tspan><tspan x="-653.60" y="47.87" textLength="30.40" lengthAdjust="spacingAndGlyphs" font-size="75.19" stroke-width="1.4">/</tspan><tspan x="-620.96" y="37.30" textLength="32.85" lengthAdjust="spacingAndGlyphs" font-size="49.02">M</tspan><tspan x="-587.08" y="48.06" textLength="27.66" lengthAdjust="spacingAndGlyphs" font-size="32.95" font-family="DejaVu Serif, serif">⊙</tspan></text>
</svg>
</body></html>
